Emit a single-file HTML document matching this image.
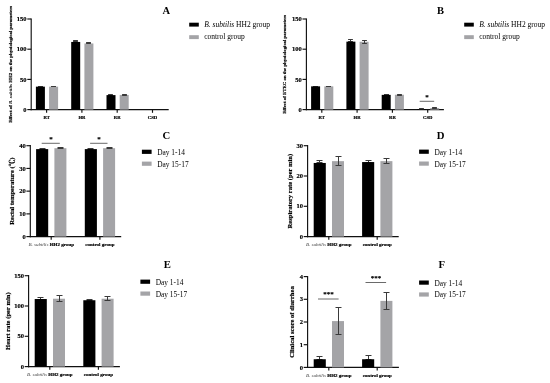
<!DOCTYPE html>
<html><head><meta charset="utf-8"><title>Figure</title>
<style>
html,body{margin:0;padding:0;background:#fff;}
svg{display:block;filter:blur(0.3px);font-family:"Liberation Serif","Noto Serif CJK SC",serif;}
</style></head><body>
<svg width="550" height="383" viewBox="0 0 550 383">
<rect width="550" height="383" fill="#fff"/>
<line x1="31.20" y1="18.43" x2="31.20" y2="110.17" stroke="#111" stroke-width="1.15"/>
<line x1="30.62" y1="109.60" x2="168.70" y2="109.60" stroke="#111" stroke-width="1.15"/>
<line x1="27.30" y1="109.60" x2="31.20" y2="109.60" stroke="#111" stroke-width="1.15"/>
<text x="26.60" y="111.74" font-size="6.5" text-anchor="end" font-weight="bold" fill="#000"  stroke="#000" stroke-width="0.18">0</text>
<line x1="27.30" y1="79.40" x2="31.20" y2="79.40" stroke="#111" stroke-width="1.15"/>
<text x="26.60" y="81.54" font-size="6.5" text-anchor="end" font-weight="bold" fill="#000"  stroke="#000" stroke-width="0.18">50</text>
<line x1="27.30" y1="49.20" x2="31.20" y2="49.20" stroke="#111" stroke-width="1.15"/>
<text x="26.60" y="51.34" font-size="6.5" text-anchor="end" font-weight="bold" fill="#000"  stroke="#000" stroke-width="0.18">100</text>
<line x1="27.30" y1="19.00" x2="31.20" y2="19.00" stroke="#111" stroke-width="1.15"/>
<text x="26.60" y="21.14" font-size="6.5" text-anchor="end" font-weight="bold" fill="#000"  stroke="#000" stroke-width="0.18">150</text>
<line x1="46.60" y1="109.60" x2="46.60" y2="112.80" stroke="#111" stroke-width="1.15"/>
<text x="46.60" y="119.40" font-size="4.7" text-anchor="middle" font-weight="bold" fill="#000"  stroke="#000" stroke-width="0.18">RT</text>
<line x1="81.90" y1="109.60" x2="81.90" y2="112.80" stroke="#111" stroke-width="1.15"/>
<text x="81.90" y="119.40" font-size="4.7" text-anchor="middle" font-weight="bold" fill="#000"  stroke="#000" stroke-width="0.18">HR</text>
<line x1="117.20" y1="109.60" x2="117.20" y2="112.80" stroke="#111" stroke-width="1.15"/>
<text x="117.20" y="119.40" font-size="4.7" text-anchor="middle" font-weight="bold" fill="#000"  stroke="#000" stroke-width="0.18">RR</text>
<line x1="152.50" y1="109.60" x2="152.50" y2="112.80" stroke="#111" stroke-width="1.15"/>
<text x="152.50" y="119.40" font-size="4.7" text-anchor="middle" font-weight="bold" fill="#000"  stroke="#000" stroke-width="0.18">CSD</text>
<line x1="40.50" y1="86.50" x2="40.50" y2="86.50" stroke="#3a3a3a" stroke-width="1.0"/>
<line x1="38.10" y1="86.50" x2="42.90" y2="86.50" stroke="#3a3a3a" stroke-width="1.0"/>
<line x1="38.10" y1="86.50" x2="42.90" y2="86.50" stroke="#3a3a3a" stroke-width="1.0"/>
<rect x="35.90" y="86.65" width="9.00" height="22.95" fill="#000"/>
<rect x="49.10" y="86.65" width="9.00" height="22.95" fill="#a4a4a7"/>
<line x1="53.50" y1="86.50" x2="53.50" y2="86.50" stroke="#3a3a3a" stroke-width="1.0"/>
<line x1="51.10" y1="86.50" x2="55.90" y2="86.50" stroke="#3a3a3a" stroke-width="1.0"/>
<line x1="51.10" y1="86.50" x2="55.90" y2="86.50" stroke="#3a3a3a" stroke-width="1.0"/>
<line x1="75.50" y1="40.50" x2="75.50" y2="41.50" stroke="#3a3a3a" stroke-width="1.0"/>
<line x1="73.10" y1="40.50" x2="77.90" y2="40.50" stroke="#3a3a3a" stroke-width="1.0"/>
<line x1="73.10" y1="41.50" x2="77.90" y2="41.50" stroke="#3a3a3a" stroke-width="1.0"/>
<rect x="71.20" y="41.95" width="9.00" height="67.65" fill="#000"/>
<rect x="84.40" y="43.46" width="9.00" height="66.14" fill="#a4a4a7"/>
<line x1="88.50" y1="42.50" x2="88.50" y2="43.50" stroke="#3a3a3a" stroke-width="1.0"/>
<line x1="86.10" y1="42.50" x2="90.90" y2="42.50" stroke="#3a3a3a" stroke-width="1.0"/>
<line x1="86.10" y1="43.50" x2="90.90" y2="43.50" stroke="#3a3a3a" stroke-width="1.0"/>
<line x1="110.50" y1="94.50" x2="110.50" y2="95.50" stroke="#3a3a3a" stroke-width="1.0"/>
<line x1="108.10" y1="94.50" x2="112.90" y2="94.50" stroke="#3a3a3a" stroke-width="1.0"/>
<line x1="108.10" y1="95.50" x2="112.90" y2="95.50" stroke="#3a3a3a" stroke-width="1.0"/>
<rect x="106.50" y="95.10" width="9.00" height="14.50" fill="#000"/>
<rect x="119.70" y="94.92" width="9.00" height="14.68" fill="#a4a4a7"/>
<line x1="124.50" y1="94.50" x2="124.50" y2="95.50" stroke="#3a3a3a" stroke-width="1.0"/>
<line x1="122.10" y1="94.50" x2="126.90" y2="94.50" stroke="#3a3a3a" stroke-width="1.0"/>
<line x1="122.10" y1="95.50" x2="126.90" y2="95.50" stroke="#3a3a3a" stroke-width="1.0"/>
<text transform="translate(11.70,64.30) rotate(-90)" font-size="4.85" text-anchor="middle" font-weight="bold" stroke="#000" stroke-width="0.18">Effect of <tspan font-style="italic" stroke="none">B. subtilis</tspan> HH2 on the physiological parameters</text>
<text x="166.20" y="13.70" font-size="10.5" text-anchor="middle" font-weight="bold" fill="#000" >A</text>
<rect x="189.20" y="22.70" width="9.60" height="3.90" fill="#000"/>
<rect x="189.20" y="35.20" width="9.60" height="3.90" fill="#a4a4a7"/>
<text x="204.20" y="27.00" font-size="7.5" text-anchor="start" font-weight="normal" fill="#000" ><tspan font-style="italic">B. subtilis</tspan> HH2 group</text>
<text x="204.20" y="39.40" font-size="7.5" text-anchor="start" font-weight="normal" fill="#000" >control group</text>
<line x1="306.40" y1="18.43" x2="306.40" y2="110.17" stroke="#111" stroke-width="1.15"/>
<line x1="305.82" y1="109.60" x2="443.90" y2="109.60" stroke="#111" stroke-width="1.15"/>
<line x1="302.50" y1="109.60" x2="306.40" y2="109.60" stroke="#111" stroke-width="1.15"/>
<text x="301.80" y="111.74" font-size="6.5" text-anchor="end" font-weight="bold" fill="#000"  stroke="#000" stroke-width="0.18">0</text>
<line x1="302.50" y1="79.40" x2="306.40" y2="79.40" stroke="#111" stroke-width="1.15"/>
<text x="301.80" y="81.54" font-size="6.5" text-anchor="end" font-weight="bold" fill="#000"  stroke="#000" stroke-width="0.18">50</text>
<line x1="302.50" y1="49.20" x2="306.40" y2="49.20" stroke="#111" stroke-width="1.15"/>
<text x="301.80" y="51.34" font-size="6.5" text-anchor="end" font-weight="bold" fill="#000"  stroke="#000" stroke-width="0.18">100</text>
<line x1="302.50" y1="19.00" x2="306.40" y2="19.00" stroke="#111" stroke-width="1.15"/>
<text x="301.80" y="21.14" font-size="6.5" text-anchor="end" font-weight="bold" fill="#000"  stroke="#000" stroke-width="0.18">150</text>
<line x1="321.80" y1="109.60" x2="321.80" y2="112.80" stroke="#111" stroke-width="1.15"/>
<text x="321.80" y="119.40" font-size="4.7" text-anchor="middle" font-weight="bold" fill="#000"  stroke="#000" stroke-width="0.18">RT</text>
<line x1="357.10" y1="109.60" x2="357.10" y2="112.80" stroke="#111" stroke-width="1.15"/>
<text x="357.10" y="119.40" font-size="4.7" text-anchor="middle" font-weight="bold" fill="#000"  stroke="#000" stroke-width="0.18">HR</text>
<line x1="392.40" y1="109.60" x2="392.40" y2="112.80" stroke="#111" stroke-width="1.15"/>
<text x="392.40" y="119.40" font-size="4.7" text-anchor="middle" font-weight="bold" fill="#000"  stroke="#000" stroke-width="0.18">RR</text>
<line x1="427.70" y1="109.60" x2="427.70" y2="112.80" stroke="#111" stroke-width="1.15"/>
<text x="427.70" y="119.40" font-size="4.7" text-anchor="middle" font-weight="bold" fill="#000"  stroke="#000" stroke-width="0.18">CSD</text>
<line x1="315.50" y1="86.50" x2="315.50" y2="86.50" stroke="#3a3a3a" stroke-width="1.0"/>
<line x1="313.10" y1="86.50" x2="317.90" y2="86.50" stroke="#3a3a3a" stroke-width="1.0"/>
<line x1="313.10" y1="86.50" x2="317.90" y2="86.50" stroke="#3a3a3a" stroke-width="1.0"/>
<rect x="311.10" y="86.35" width="9.00" height="23.25" fill="#000"/>
<rect x="324.30" y="86.35" width="9.00" height="23.25" fill="#a4a4a7"/>
<line x1="328.50" y1="86.50" x2="328.50" y2="86.50" stroke="#3a3a3a" stroke-width="1.0"/>
<line x1="326.10" y1="86.50" x2="330.90" y2="86.50" stroke="#3a3a3a" stroke-width="1.0"/>
<line x1="326.10" y1="86.50" x2="330.90" y2="86.50" stroke="#3a3a3a" stroke-width="1.0"/>
<line x1="350.50" y1="39.50" x2="350.50" y2="41.50" stroke="#3a3a3a" stroke-width="1.0"/>
<line x1="348.10" y1="39.50" x2="352.90" y2="39.50" stroke="#3a3a3a" stroke-width="1.0"/>
<line x1="348.10" y1="41.50" x2="352.90" y2="41.50" stroke="#3a3a3a" stroke-width="1.0"/>
<rect x="346.40" y="41.65" width="9.00" height="67.95" fill="#000"/>
<rect x="359.60" y="41.77" width="9.00" height="67.83" fill="#a4a4a7"/>
<line x1="364.50" y1="40.50" x2="364.50" y2="43.50" stroke="#3a3a3a" stroke-width="1.0"/>
<line x1="362.10" y1="40.50" x2="366.90" y2="40.50" stroke="#3a3a3a" stroke-width="1.0"/>
<line x1="362.10" y1="43.50" x2="366.90" y2="43.50" stroke="#3a3a3a" stroke-width="1.0"/>
<line x1="386.50" y1="94.50" x2="386.50" y2="94.50" stroke="#3a3a3a" stroke-width="1.0"/>
<line x1="384.10" y1="94.50" x2="388.90" y2="94.50" stroke="#3a3a3a" stroke-width="1.0"/>
<line x1="384.10" y1="94.50" x2="388.90" y2="94.50" stroke="#3a3a3a" stroke-width="1.0"/>
<rect x="381.70" y="94.86" width="9.00" height="14.74" fill="#000"/>
<rect x="394.90" y="94.74" width="9.00" height="14.86" fill="#a4a4a7"/>
<line x1="399.50" y1="94.50" x2="399.50" y2="95.50" stroke="#3a3a3a" stroke-width="1.0"/>
<line x1="397.10" y1="94.50" x2="401.90" y2="94.50" stroke="#3a3a3a" stroke-width="1.0"/>
<line x1="397.10" y1="95.50" x2="401.90" y2="95.50" stroke="#3a3a3a" stroke-width="1.0"/>
<line x1="421.50" y1="108.50" x2="421.50" y2="109.50" stroke="#3a3a3a" stroke-width="1.0"/>
<line x1="419.10" y1="108.50" x2="423.90" y2="108.50" stroke="#3a3a3a" stroke-width="1.0"/>
<line x1="419.10" y1="109.50" x2="423.90" y2="109.50" stroke="#3a3a3a" stroke-width="1.0"/>
<rect x="417.00" y="109.06" width="9.00" height="0.54" fill="#000"/>
<rect x="430.20" y="108.03" width="9.00" height="1.57" fill="#a4a4a7"/>
<line x1="434.50" y1="107.50" x2="434.50" y2="108.50" stroke="#3a3a3a" stroke-width="1.0"/>
<line x1="432.10" y1="107.50" x2="436.90" y2="107.50" stroke="#3a3a3a" stroke-width="1.0"/>
<line x1="432.10" y1="108.50" x2="436.90" y2="108.50" stroke="#3a3a3a" stroke-width="1.0"/>
<text transform="translate(286.40,64.30) rotate(-90)" font-size="4.85" text-anchor="middle" font-weight="bold" stroke="#000" stroke-width="0.18">Effect of ETEC on the physiological parameters</text>
<text x="440.50" y="13.70" font-size="10.5" text-anchor="middle" font-weight="bold" fill="#000" >B</text>
<rect x="464.20" y="22.70" width="9.60" height="3.90" fill="#000"/>
<rect x="464.20" y="35.20" width="9.60" height="3.90" fill="#a4a4a7"/>
<text x="479.20" y="27.00" font-size="7.5" text-anchor="start" font-weight="normal" fill="#000" ><tspan font-style="italic">B. subtilis</tspan> HH2 group</text>
<text x="479.20" y="39.40" font-size="7.5" text-anchor="start" font-weight="normal" fill="#000" >control group</text>
<line x1="419.70" y1="101.30" x2="434.20" y2="101.30" stroke="#444" stroke-width="0.8"/>
<text x="427.10" y="98.70" font-size="7" text-anchor="middle" font-weight="bold" fill="#000"  stroke="#000" stroke-width="0.18">*</text>
<line x1="30.30" y1="145.12" x2="30.30" y2="237.17" stroke="#111" stroke-width="1.15"/>
<line x1="29.73" y1="236.60" x2="121.20" y2="236.60" stroke="#111" stroke-width="1.15"/>
<line x1="26.40" y1="236.60" x2="30.30" y2="236.60" stroke="#111" stroke-width="1.15"/>
<text x="25.70" y="238.75" font-size="6.5" text-anchor="end" font-weight="bold" fill="#000"  stroke="#000" stroke-width="0.18">0</text>
<line x1="26.40" y1="213.88" x2="30.30" y2="213.88" stroke="#111" stroke-width="1.15"/>
<text x="25.70" y="216.02" font-size="6.5" text-anchor="end" font-weight="bold" fill="#000"  stroke="#000" stroke-width="0.18">10</text>
<line x1="26.40" y1="191.15" x2="30.30" y2="191.15" stroke="#111" stroke-width="1.15"/>
<text x="25.70" y="193.29" font-size="6.5" text-anchor="end" font-weight="bold" fill="#000"  stroke="#000" stroke-width="0.18">20</text>
<line x1="26.40" y1="168.43" x2="30.30" y2="168.43" stroke="#111" stroke-width="1.15"/>
<text x="25.70" y="170.57" font-size="6.5" text-anchor="end" font-weight="bold" fill="#000"  stroke="#000" stroke-width="0.18">30</text>
<line x1="26.40" y1="145.70" x2="30.30" y2="145.70" stroke="#111" stroke-width="1.15"/>
<text x="25.70" y="147.84" font-size="6.5" text-anchor="end" font-weight="bold" fill="#000"  stroke="#000" stroke-width="0.18">40</text>
<line x1="51.20" y1="236.60" x2="51.20" y2="239.80" stroke="#111" stroke-width="1.15"/>
<line x1="99.90" y1="236.60" x2="99.90" y2="239.80" stroke="#111" stroke-width="1.15"/>
<line x1="42.50" y1="148.50" x2="42.50" y2="149.50" stroke="#3a3a3a" stroke-width="1.0"/>
<line x1="39.50" y1="148.50" x2="45.50" y2="148.50" stroke="#3a3a3a" stroke-width="1.0"/>
<line x1="39.50" y1="149.50" x2="45.50" y2="149.50" stroke="#3a3a3a" stroke-width="1.0"/>
<rect x="36.10" y="149.11" width="12.10" height="87.49" fill="#000"/>
<rect x="54.40" y="148.20" width="12.00" height="88.40" fill="#a4a4a7"/>
<line x1="60.50" y1="147.50" x2="60.50" y2="148.50" stroke="#3a3a3a" stroke-width="1.0"/>
<line x1="57.50" y1="147.50" x2="63.50" y2="147.50" stroke="#3a3a3a" stroke-width="1.0"/>
<line x1="57.50" y1="148.50" x2="63.50" y2="148.50" stroke="#3a3a3a" stroke-width="1.0"/>
<text x="51.20" y="246.20" font-size="5.0" text-anchor="middle" font-weight="bold" fill="#000"  stroke="#000" stroke-width="0.18"><tspan font-style="italic" font-weight="normal" fill="#3a3a3a" stroke="none">B. subtilis</tspan> HH2 group</text>
<line x1="90.50" y1="148.50" x2="90.50" y2="149.50" stroke="#3a3a3a" stroke-width="1.0"/>
<line x1="87.50" y1="148.50" x2="93.50" y2="148.50" stroke="#3a3a3a" stroke-width="1.0"/>
<line x1="87.50" y1="149.50" x2="93.50" y2="149.50" stroke="#3a3a3a" stroke-width="1.0"/>
<rect x="84.80" y="149.11" width="12.10" height="87.49" fill="#000"/>
<rect x="103.10" y="148.20" width="12.00" height="88.40" fill="#a4a4a7"/>
<line x1="109.50" y1="147.50" x2="109.50" y2="148.50" stroke="#3a3a3a" stroke-width="1.0"/>
<line x1="106.50" y1="147.50" x2="112.50" y2="147.50" stroke="#3a3a3a" stroke-width="1.0"/>
<line x1="106.50" y1="148.50" x2="112.50" y2="148.50" stroke="#3a3a3a" stroke-width="1.0"/>
<text x="99.90" y="246.20" font-size="5.0" text-anchor="middle" font-weight="bold" fill="#000"  stroke="#000" stroke-width="0.18">control group</text>
<text transform="translate(13.80,191.15) rotate(-90)" font-size="6.6" text-anchor="middle" font-weight="bold" stroke="#000" stroke-width="0.18">Rectal temperature (℃)</text>
<text x="166.40" y="139.00" font-size="10.7" text-anchor="middle" font-weight="bold" fill="#000" >C</text>
<rect x="141.90" y="149.70" width="9.70" height="4.20" fill="#000"/>
<rect x="141.90" y="161.60" width="9.70" height="4.20" fill="#a4a4a7"/>
<text x="157.20" y="154.70" font-size="7.4" text-anchor="start" font-weight="normal" fill="#000" >Day 1-14</text>
<text x="157.20" y="166.60" font-size="7.4" text-anchor="start" font-weight="normal" fill="#000" >Day 15-17</text>
<line x1="41.70" y1="143.30" x2="59.80" y2="143.30" stroke="#444" stroke-width="0.8"/>
<text x="51.05" y="140.70" font-size="7" text-anchor="middle" font-weight="bold" fill="#000"  stroke="#000" stroke-width="0.18">*</text>
<line x1="90.10" y1="143.30" x2="107.50" y2="143.30" stroke="#444" stroke-width="0.8"/>
<text x="99.10" y="140.70" font-size="7" text-anchor="middle" font-weight="bold" fill="#000"  stroke="#000" stroke-width="0.18">*</text>
<line x1="307.60" y1="145.12" x2="307.60" y2="237.17" stroke="#111" stroke-width="1.15"/>
<line x1="307.03" y1="236.60" x2="398.70" y2="236.60" stroke="#111" stroke-width="1.15"/>
<line x1="303.70" y1="236.60" x2="307.60" y2="236.60" stroke="#111" stroke-width="1.15"/>
<text x="303.00" y="238.75" font-size="6.5" text-anchor="end" font-weight="bold" fill="#000"  stroke="#000" stroke-width="0.18">0</text>
<line x1="303.70" y1="206.30" x2="307.60" y2="206.30" stroke="#111" stroke-width="1.15"/>
<text x="303.00" y="208.44" font-size="6.5" text-anchor="end" font-weight="bold" fill="#000"  stroke="#000" stroke-width="0.18">10</text>
<line x1="303.70" y1="176.00" x2="307.60" y2="176.00" stroke="#111" stroke-width="1.15"/>
<text x="303.00" y="178.15" font-size="6.5" text-anchor="end" font-weight="bold" fill="#000"  stroke="#000" stroke-width="0.18">20</text>
<line x1="303.70" y1="145.70" x2="307.60" y2="145.70" stroke="#111" stroke-width="1.15"/>
<text x="303.00" y="147.84" font-size="6.5" text-anchor="end" font-weight="bold" fill="#000"  stroke="#000" stroke-width="0.18">30</text>
<line x1="328.80" y1="236.60" x2="328.80" y2="239.80" stroke="#111" stroke-width="1.15"/>
<line x1="377.20" y1="236.60" x2="377.20" y2="239.80" stroke="#111" stroke-width="1.15"/>
<line x1="319.50" y1="160.50" x2="319.50" y2="162.50" stroke="#3a3a3a" stroke-width="1.0"/>
<line x1="316.50" y1="160.50" x2="322.50" y2="160.50" stroke="#3a3a3a" stroke-width="1.0"/>
<line x1="316.50" y1="162.50" x2="322.50" y2="162.50" stroke="#3a3a3a" stroke-width="1.0"/>
<rect x="313.70" y="162.97" width="12.10" height="73.63" fill="#000"/>
<rect x="332.00" y="161.15" width="12.00" height="75.45" fill="#a4a4a7"/>
<line x1="338.50" y1="156.50" x2="338.50" y2="165.50" stroke="#3a3a3a" stroke-width="1.0"/>
<line x1="335.50" y1="156.50" x2="341.50" y2="156.50" stroke="#3a3a3a" stroke-width="1.0"/>
<line x1="335.50" y1="165.50" x2="341.50" y2="165.50" stroke="#3a3a3a" stroke-width="1.0"/>
<text x="328.80" y="246.20" font-size="5.0" text-anchor="middle" font-weight="bold" fill="#000"  stroke="#000" stroke-width="0.18"><tspan font-style="italic" font-weight="normal" fill="#3a3a3a" stroke="none">B. subtilis</tspan> HH2 group</text>
<line x1="368.50" y1="160.50" x2="368.50" y2="162.50" stroke="#3a3a3a" stroke-width="1.0"/>
<line x1="365.50" y1="160.50" x2="371.50" y2="160.50" stroke="#3a3a3a" stroke-width="1.0"/>
<line x1="365.50" y1="162.50" x2="371.50" y2="162.50" stroke="#3a3a3a" stroke-width="1.0"/>
<rect x="362.10" y="162.06" width="12.10" height="74.54" fill="#000"/>
<rect x="380.40" y="161.15" width="12.00" height="75.45" fill="#a4a4a7"/>
<line x1="386.50" y1="158.50" x2="386.50" y2="163.50" stroke="#3a3a3a" stroke-width="1.0"/>
<line x1="383.50" y1="158.50" x2="389.50" y2="158.50" stroke="#3a3a3a" stroke-width="1.0"/>
<line x1="383.50" y1="163.50" x2="389.50" y2="163.50" stroke="#3a3a3a" stroke-width="1.0"/>
<text x="377.20" y="246.20" font-size="5.0" text-anchor="middle" font-weight="bold" fill="#000"  stroke="#000" stroke-width="0.18">control group</text>
<text transform="translate(292.20,191.15) rotate(-90)" font-size="6.6" text-anchor="middle" font-weight="bold" stroke="#000" stroke-width="0.18">Respiratory rate (per min)</text>
<text x="440.50" y="139.00" font-size="10.7" text-anchor="middle" font-weight="bold" fill="#000" >D</text>
<rect x="419.10" y="149.60" width="9.70" height="4.20" fill="#000"/>
<rect x="419.10" y="161.50" width="9.70" height="4.20" fill="#a4a4a7"/>
<text x="434.40" y="154.60" font-size="7.4" text-anchor="start" font-weight="normal" fill="#000" >Day 1-14</text>
<text x="434.40" y="166.50" font-size="7.4" text-anchor="start" font-weight="normal" fill="#000" >Day 15-17</text>
<line x1="28.60" y1="275.12" x2="28.60" y2="367.18" stroke="#111" stroke-width="1.15"/>
<line x1="28.03" y1="366.60" x2="119.90" y2="366.60" stroke="#111" stroke-width="1.15"/>
<line x1="24.70" y1="366.60" x2="28.60" y2="366.60" stroke="#111" stroke-width="1.15"/>
<text x="24.00" y="368.75" font-size="6.5" text-anchor="end" font-weight="bold" fill="#000"  stroke="#000" stroke-width="0.18">0</text>
<line x1="24.70" y1="336.30" x2="28.60" y2="336.30" stroke="#111" stroke-width="1.15"/>
<text x="24.00" y="338.44" font-size="6.5" text-anchor="end" font-weight="bold" fill="#000"  stroke="#000" stroke-width="0.18">50</text>
<line x1="24.70" y1="306.00" x2="28.60" y2="306.00" stroke="#111" stroke-width="1.15"/>
<text x="24.00" y="308.14" font-size="6.5" text-anchor="end" font-weight="bold" fill="#000"  stroke="#000" stroke-width="0.18">100</text>
<line x1="24.70" y1="275.70" x2="28.60" y2="275.70" stroke="#111" stroke-width="1.15"/>
<text x="24.00" y="277.84" font-size="6.5" text-anchor="end" font-weight="bold" fill="#000"  stroke="#000" stroke-width="0.18">150</text>
<line x1="49.80" y1="366.60" x2="49.80" y2="369.80" stroke="#111" stroke-width="1.15"/>
<line x1="98.40" y1="366.60" x2="98.40" y2="369.80" stroke="#111" stroke-width="1.15"/>
<line x1="40.50" y1="297.50" x2="40.50" y2="299.50" stroke="#3a3a3a" stroke-width="1.0"/>
<line x1="37.50" y1="297.50" x2="43.50" y2="297.50" stroke="#3a3a3a" stroke-width="1.0"/>
<line x1="37.50" y1="299.50" x2="43.50" y2="299.50" stroke="#3a3a3a" stroke-width="1.0"/>
<rect x="34.70" y="299.03" width="12.10" height="67.57" fill="#000"/>
<rect x="53.00" y="298.73" width="12.00" height="67.87" fill="#a4a4a7"/>
<line x1="59.50" y1="295.50" x2="59.50" y2="301.50" stroke="#3a3a3a" stroke-width="1.0"/>
<line x1="56.50" y1="295.50" x2="62.50" y2="295.50" stroke="#3a3a3a" stroke-width="1.0"/>
<line x1="56.50" y1="301.50" x2="62.50" y2="301.50" stroke="#3a3a3a" stroke-width="1.0"/>
<text x="49.80" y="375.90" font-size="5.0" text-anchor="middle" font-weight="bold" fill="#000"  stroke="#000" stroke-width="0.18"><tspan font-style="italic" font-weight="normal" fill="#3a3a3a" stroke="none">B. subtilis</tspan> HH2 group</text>
<line x1="89.50" y1="299.50" x2="89.50" y2="300.50" stroke="#3a3a3a" stroke-width="1.0"/>
<line x1="86.50" y1="299.50" x2="92.50" y2="299.50" stroke="#3a3a3a" stroke-width="1.0"/>
<line x1="86.50" y1="300.50" x2="92.50" y2="300.50" stroke="#3a3a3a" stroke-width="1.0"/>
<rect x="83.30" y="300.24" width="12.10" height="66.36" fill="#000"/>
<rect x="101.60" y="298.73" width="12.00" height="67.87" fill="#a4a4a7"/>
<line x1="107.50" y1="296.50" x2="107.50" y2="300.50" stroke="#3a3a3a" stroke-width="1.0"/>
<line x1="104.50" y1="296.50" x2="110.50" y2="296.50" stroke="#3a3a3a" stroke-width="1.0"/>
<line x1="104.50" y1="300.50" x2="110.50" y2="300.50" stroke="#3a3a3a" stroke-width="1.0"/>
<text x="98.40" y="375.90" font-size="5.0" text-anchor="middle" font-weight="bold" fill="#000"  stroke="#000" stroke-width="0.18">control group</text>
<text transform="translate(10.00,321.15) rotate(-90)" font-size="6.6" text-anchor="middle" font-weight="bold" stroke="#000" stroke-width="0.18">Heart rate (per min)</text>
<text x="167.20" y="268.30" font-size="10.7" text-anchor="middle" font-weight="bold" fill="#000" >E</text>
<rect x="140.40" y="279.60" width="9.70" height="4.20" fill="#000"/>
<rect x="140.40" y="291.50" width="9.70" height="4.20" fill="#a4a4a7"/>
<text x="155.70" y="284.60" font-size="7.4" text-anchor="start" font-weight="normal" fill="#000" >Day 1-14</text>
<text x="155.70" y="296.50" font-size="7.4" text-anchor="start" font-weight="normal" fill="#000" >Day 15-17</text>
<line x1="307.60" y1="276.03" x2="307.60" y2="367.97" stroke="#111" stroke-width="1.15"/>
<line x1="307.03" y1="367.40" x2="398.90" y2="367.40" stroke="#111" stroke-width="1.15"/>
<line x1="303.70" y1="367.40" x2="307.60" y2="367.40" stroke="#111" stroke-width="1.15"/>
<text x="303.00" y="369.54" font-size="6.5" text-anchor="end" font-weight="bold" fill="#000"  stroke="#000" stroke-width="0.18">0</text>
<line x1="303.70" y1="344.70" x2="307.60" y2="344.70" stroke="#111" stroke-width="1.15"/>
<text x="303.00" y="346.84" font-size="6.5" text-anchor="end" font-weight="bold" fill="#000"  stroke="#000" stroke-width="0.18">1</text>
<line x1="303.70" y1="322.00" x2="307.60" y2="322.00" stroke="#111" stroke-width="1.15"/>
<text x="303.00" y="324.14" font-size="6.5" text-anchor="end" font-weight="bold" fill="#000"  stroke="#000" stroke-width="0.18">2</text>
<line x1="303.70" y1="299.30" x2="307.60" y2="299.30" stroke="#111" stroke-width="1.15"/>
<text x="303.00" y="301.44" font-size="6.5" text-anchor="end" font-weight="bold" fill="#000"  stroke="#000" stroke-width="0.18">3</text>
<line x1="303.70" y1="276.60" x2="307.60" y2="276.60" stroke="#111" stroke-width="1.15"/>
<text x="303.00" y="278.75" font-size="6.5" text-anchor="end" font-weight="bold" fill="#000"  stroke="#000" stroke-width="0.18">4</text>
<line x1="328.80" y1="367.40" x2="328.80" y2="370.60" stroke="#111" stroke-width="1.15"/>
<line x1="377.20" y1="367.40" x2="377.20" y2="370.60" stroke="#111" stroke-width="1.15"/>
<line x1="319.50" y1="356.50" x2="319.50" y2="359.50" stroke="#3a3a3a" stroke-width="1.0"/>
<line x1="316.50" y1="356.50" x2="322.50" y2="356.50" stroke="#3a3a3a" stroke-width="1.0"/>
<line x1="316.50" y1="359.50" x2="322.50" y2="359.50" stroke="#3a3a3a" stroke-width="1.0"/>
<rect x="313.70" y="359.23" width="12.10" height="8.17" fill="#000"/>
<rect x="332.00" y="321.09" width="12.00" height="46.31" fill="#a4a4a7"/>
<line x1="338.50" y1="307.50" x2="338.50" y2="334.50" stroke="#3a3a3a" stroke-width="1.0"/>
<line x1="335.50" y1="307.50" x2="341.50" y2="307.50" stroke="#3a3a3a" stroke-width="1.0"/>
<line x1="335.50" y1="334.50" x2="341.50" y2="334.50" stroke="#3a3a3a" stroke-width="1.0"/>
<text x="328.80" y="376.60" font-size="5.0" text-anchor="middle" font-weight="bold" fill="#000"  stroke="#000" stroke-width="0.18"><tspan font-style="italic" font-weight="normal" fill="#3a3a3a" stroke="none">B. subtilis</tspan> HH2 group</text>
<line x1="368.50" y1="355.50" x2="368.50" y2="359.50" stroke="#3a3a3a" stroke-width="1.0"/>
<line x1="365.50" y1="355.50" x2="371.50" y2="355.50" stroke="#3a3a3a" stroke-width="1.0"/>
<line x1="365.50" y1="359.50" x2="371.50" y2="359.50" stroke="#3a3a3a" stroke-width="1.0"/>
<rect x="362.10" y="359.23" width="12.10" height="8.17" fill="#000"/>
<rect x="380.40" y="300.89" width="12.00" height="66.51" fill="#a4a4a7"/>
<line x1="386.50" y1="292.50" x2="386.50" y2="309.50" stroke="#3a3a3a" stroke-width="1.0"/>
<line x1="383.50" y1="292.50" x2="389.50" y2="292.50" stroke="#3a3a3a" stroke-width="1.0"/>
<line x1="383.50" y1="309.50" x2="389.50" y2="309.50" stroke="#3a3a3a" stroke-width="1.0"/>
<text x="377.20" y="376.60" font-size="5.0" text-anchor="middle" font-weight="bold" fill="#000"  stroke="#000" stroke-width="0.18">control group</text>
<text transform="translate(293.70,322.00) rotate(-90)" font-size="6.6" text-anchor="middle" font-weight="bold" stroke="#000" stroke-width="0.18">Clinical score of diarrhea</text>
<text x="441.70" y="268.30" font-size="10.7" text-anchor="middle" font-weight="bold" fill="#000" >F</text>
<rect x="419.10" y="280.50" width="9.70" height="4.20" fill="#000"/>
<rect x="419.10" y="292.40" width="9.70" height="4.20" fill="#a4a4a7"/>
<text x="434.40" y="285.50" font-size="7.4" text-anchor="start" font-weight="normal" fill="#000" >Day 1-14</text>
<text x="434.40" y="297.40" font-size="7.4" text-anchor="start" font-weight="normal" fill="#000" >Day 15-17</text>
<line x1="318.00" y1="299.00" x2="338.60" y2="299.00" stroke="#444" stroke-width="0.8"/>
<text x="328.60" y="296.40" font-size="7" text-anchor="middle" font-weight="bold" fill="#000"  stroke="#000" stroke-width="0.18">***</text>
<line x1="365.50" y1="282.50" x2="386.10" y2="282.50" stroke="#444" stroke-width="0.8"/>
<text x="376.10" y="279.90" font-size="7" text-anchor="middle" font-weight="bold" fill="#000"  stroke="#000" stroke-width="0.18">***</text>
</svg>
</body></html>
